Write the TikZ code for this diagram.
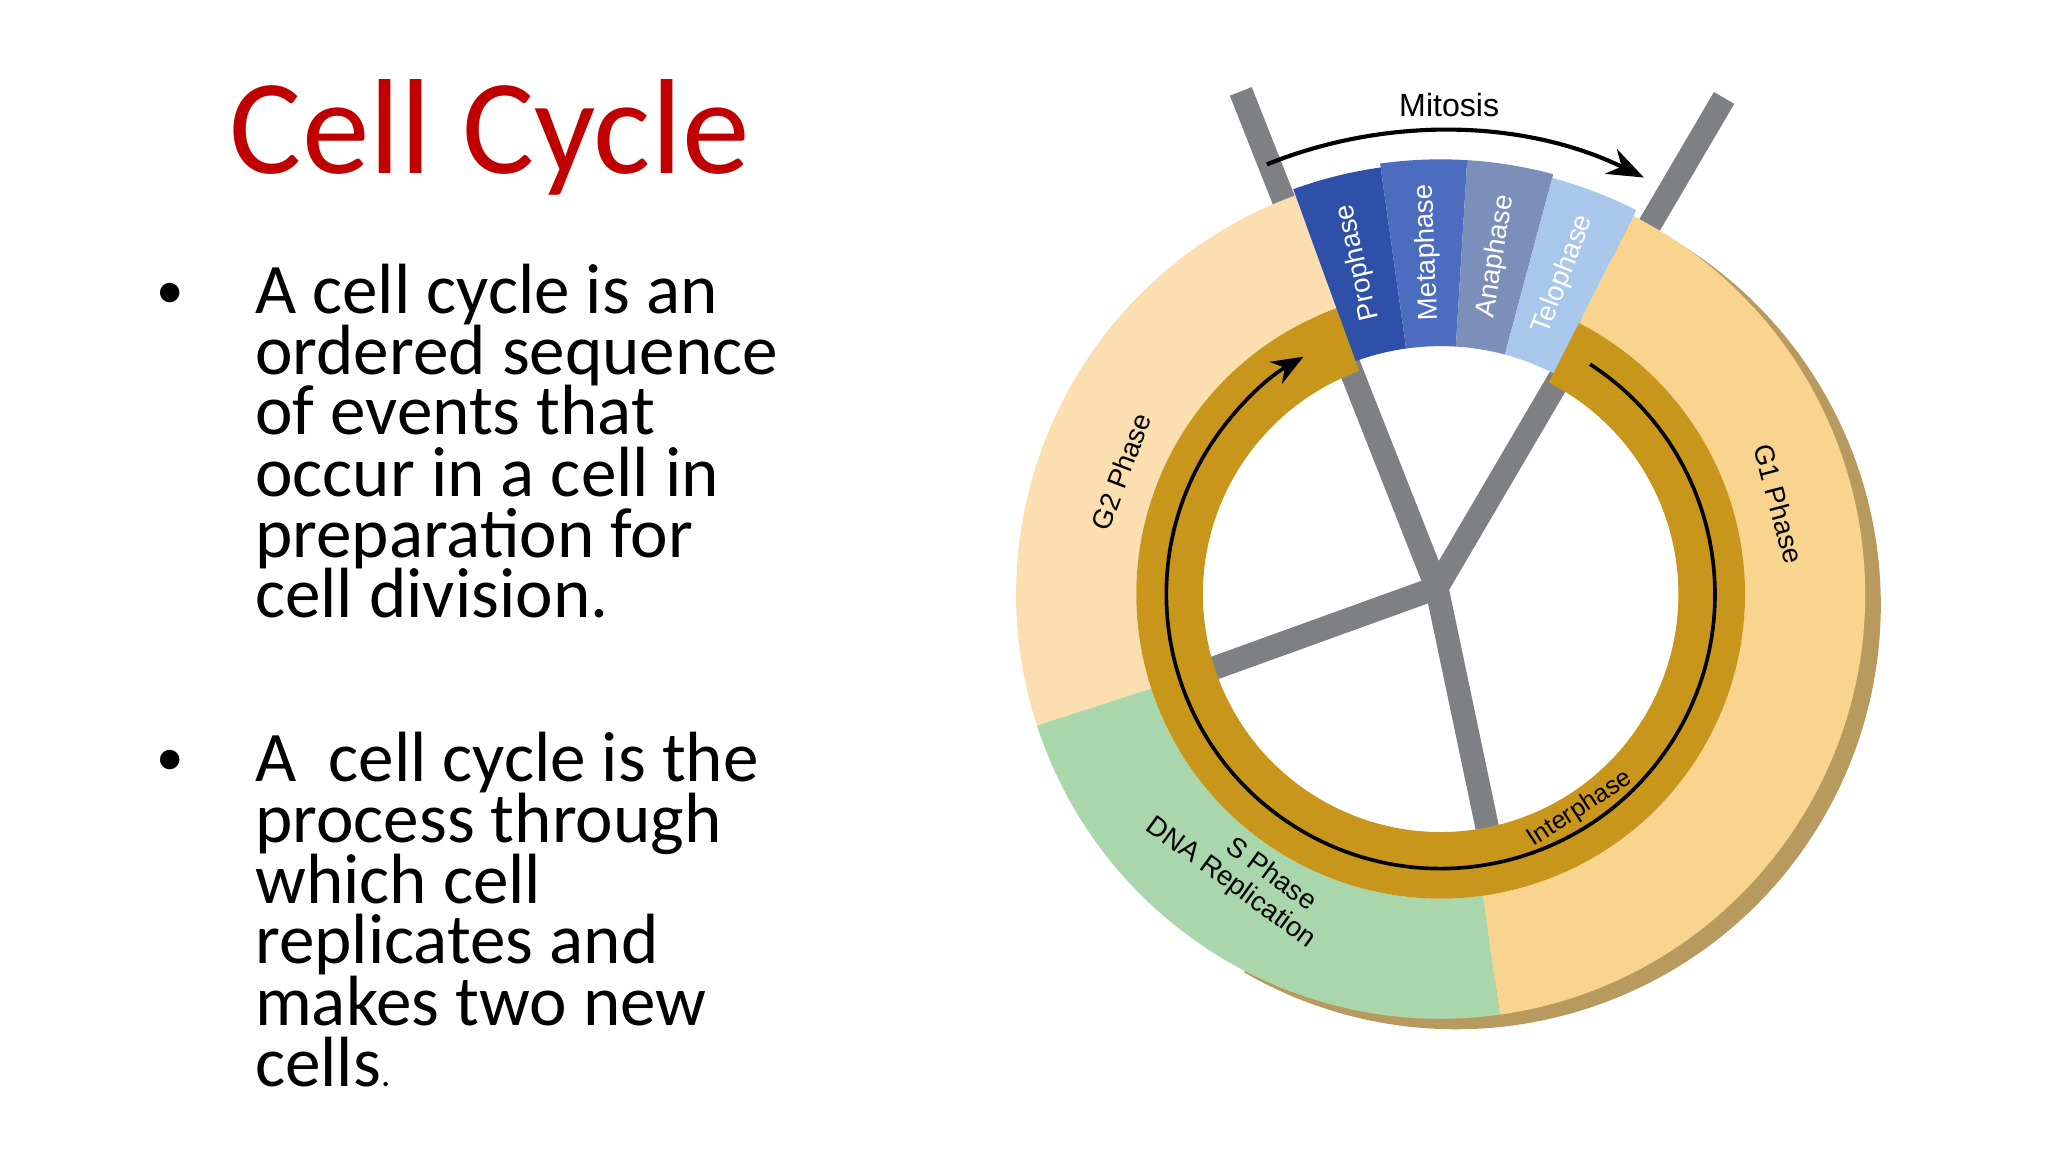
\documentclass[tikz,border=0pt]{standalone}
\usepackage{fontspec}
\setmainfont{Carlito}
\newfontfamily\arialf{Liberation Sans}
\usetikzlibrary{arrows.meta}
\definecolor{titlered}{HTML}{C00000}
\definecolor{pro}{HTML}{2F50A8}
\definecolor{meta}{HTML}{4B6CBF}
\definecolor{ana}{HTML}{7C8FBA}
\definecolor{telo}{HTML}{A8C7EA}
\definecolor{gone}{HTML}{F9D48E}
\definecolor{gtwo}{HTML}{FBDFB0}
\definecolor{sph}{HTML}{A9D6AA}
\definecolor{gold}{HTML}{C9961C}
\definecolor{rim}{HTML}{B99A5E}
\definecolor{grayline}{HTML}{7F8084}
\tikzset{
  body/.style={anchor=base west,inner sep=0pt,font=\fontsize{31}{26}\selectfont},
  bul/.style={anchor=base,inner sep=0pt,font=\fontsize{24}{24}\selectfont},
  seglab/.style={font=\arialf\fontsize{12}{12}\selectfont,text=white,inner sep=0pt},
  ringlab/.style={font=\arialf\fontsize{12}{13}\selectfont,inner sep=0pt,align=center},
  gline/.style={grayline,line width=0.36cm}
}
\newcommand{\annsec}[5]{\fill[#1] (#2:#4) arc[start angle=#2,end angle=#3,radius=#4] -- (#3:#5) arc[start angle=#3,end angle=#2,radius=#5] -- cycle;}
\begin{document}
\begin{tikzpicture}[x=0.02cm,y=0.02cm]
\useasboundingbox (0,0) rectangle (1568,882);
\fill[white] (0,0) rectangle (1568,882);
% title
\node[anchor=base,inner sep=0pt,text=titlered,font=\fontsize{59}{59}\selectfont] (title) at (375,749) {Cell Cycle};
% bullets
\node[bul] (b1) at (130,646) {\textbullet};
\node[bul] (b2) at (130,288) {\textbullet};
\node[body] (l1) at (195,642) {A cell cycle is an};
\node[body] (l2) at (195,595) {ordered sequence};
\node[body] (l3) at (195,549) {of events that};
\node[body] (l4) at (195,502) {occur in a cell in};
\node[body] (l5) at (195,455) {preparation for};
\node[body] (l6) at (195,409) {cell division.};
\node[body] (m1) at (195,284) {A\ \ cell cycle is the};
\node[body] (m2) at (195,237) {process through};
\node[body] (m3) at (195,190) {which cell};
\node[body] (m4) at (195,144) {replicates and};
\node[body] (m5) at (195,97) {makes two new};
\node[body] (m6) at (195,50) {cells{\fontsize{16}{16}\selectfont.}};
% gray lines
\coordinate (J) at (1100,432);
\draw[gline] (950,812) -- (J) -- (1320,807);
\draw[gline] (J) -- (920,367);
\draw[gline] (J) -- (1140,242);
\begin{scope}[shift={(1103,427)}]
  % 3D rim
  \begin{scope}[shift={(12,-8)}]
    \annsec{rim}{-120}{70}{325}{290}
  \end{scope}
  \annsec{gone}{-82}{63}{325}{233}
  \annsec{sph}{-162}{-82}{325}{233}
  \annsec{gtwo}{110}{198}{325}{233}
  \annsec{gold}{110}{423}{233}{182}
  \annsec{pro}{98}{110}{330}{190}
  \annsec{meta}{86.5}{98}{333}{190}
  \annsec{ana}{75}{86.5}{333}{190}
  \annsec{telo}{63}{75}{330}{190}
  % inner cycle arrow
  \draw[line width=1.6pt,-{Stealth[length=14pt,width=11pt]}] (57:210) arc[start angle=57,end angle=-240,radius=210];
  % mitosis arrow
  \draw[line width=1.8pt,-{Stealth[length=16pt,width=12pt]}] (112:355) arc[start angle=112,end angle=64,radius=355];
  \node[font=\arialf\fontsize{14}{14}\selectfont] (mit) at (89:375) {Mitosis};
  % segment labels
  \node[seglab,rotate=103] (p) at (104:262) {Prophase};
  \node[seglab,rotate=92] (me) at (92.2:262) {Metaphase};
  \node[seglab,rotate=81] (a) at (80.7:262) {Anaphase};
  \node[seglab,rotate=69] (t) at (69:262) {Telophase};
  \node[ringlab,rotate=69] (g2) at (159:262) {G2 Phase};
  \node[ringlab,rotate=-75] (g1) at (15:268) {G1 Phase};
  \node[ringlab,rotate=-36] (s) at (234:262) {\hspace*{2em}S Phase\\DNA Replication};
  \node[ringlab,rotate=33,font=\arialf\fontsize{11}{11}\selectfont] (ip) at (-57:196) {Interphase};
\end{scope}
\end{tikzpicture}
\end{document}
